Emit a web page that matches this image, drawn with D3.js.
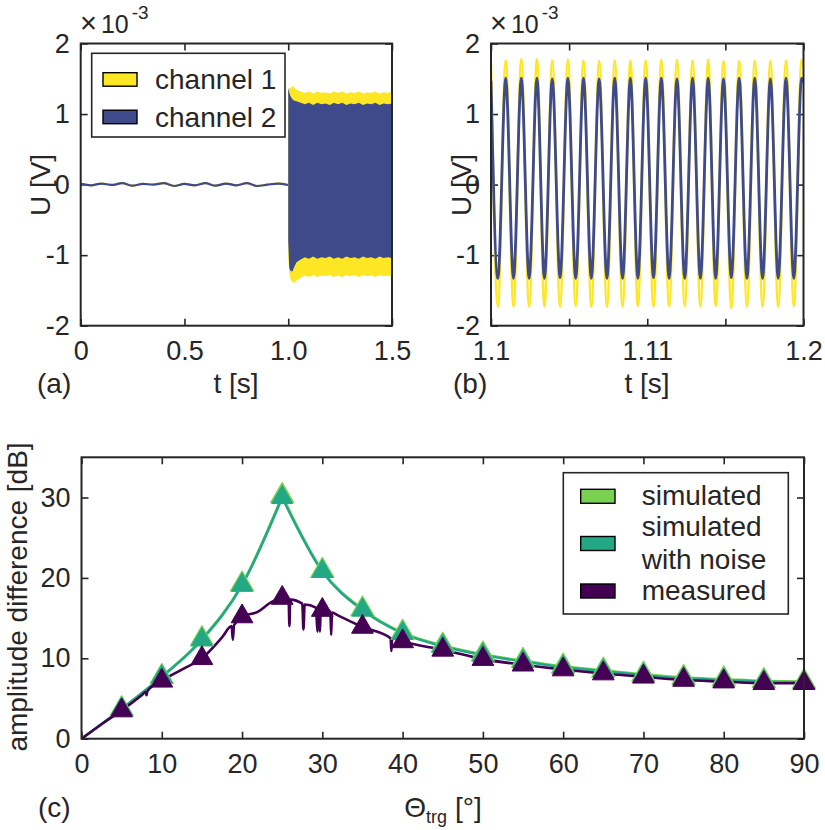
<!DOCTYPE html>
<html>
<head>
<meta charset="utf-8">
<script src="https://cdn.jsdelivr.net/npm/d3@7"></script>
<style>
  body { margin: 0; background: #fff; }
  svg { display: block; }
</style>
</head>
<body>
<svg id="fig"></svg>
<script>
(function () {
    const width = 825;
    const height = 830;
    const FONT = "'Liberation Sans', Arial, Helvetica, sans-serif";
    const INK = "#262626";
    const FS = 28;      // labels, legends
    const TICK_FS = 27; // tick labels

    const YELLOW = "#fde725", BLUE = "#3e4a89";
    const GREEN = "#7ad151", TEAL = "#22a884", PURPLE = "#440154";

    // ---- (a) full record, U in units of 1e-3 V ----
    const quietT = [0, 0.05, 0.1, 0.15, 0.2, 0.25, 0.3, 0.35, 0.4, 0.45, 0.5,
                    0.55, 0.6, 0.65, 0.7, 0.75, 0.8, 0.85, 0.9, 0.95, 1.0];
    const quietU = [0.01, -0.01, 0.015, -0.005, 0.02, -0.015, 0.01, 0.0, 0.02, -0.02, 0.01,
                    -0.01, 0.02, -0.015, 0.015, -0.01, 0.02, -0.02, 0.0, 0.015, -0.005];

    // envelope of the 200 Hz burst (too dense to show single periods)
    const burstT = [1.0, 1.005, 1.01, 1.02, 1.03, 1.04, 1.06, 1.08, 1.1, 1.12, 1.14, 1.16, 1.18,
                    1.2, 1.22, 1.24, 1.26, 1.28, 1.3, 1.32, 1.34, 1.36, 1.38, 1.4, 1.42, 1.44,
                    1.46, 1.48, 1.5];
    const ch1Top = [1.33, 1.38, 1.36, 1.40, 1.37, 1.34, 1.32, 1.30, 1.32, 1.29, 1.32, 1.30, 1.31,
                    1.29, 1.32, 1.30, 1.32, 1.29, 1.31, 1.30, 1.32, 1.29, 1.31, 1.30, 1.32, 1.29,
                    1.31, 1.30, 1.32];
    const ch1Bot = [-1.05, -1.25, -1.33, -1.38, -1.39, -1.36, -1.32, -1.29, -1.31, -1.28, -1.31, -1.29, -1.30,
                    -1.28, -1.31, -1.29, -1.31, -1.28, -1.30, -1.29, -1.31, -1.28, -1.30, -1.29, -1.31, -1.28,
                    -1.30, -1.29, -1.31];
    const ch2Top = [1.37, 1.31, 1.26, 1.21, 1.19, 1.18, 1.16, 1.14, 1.16, 1.13, 1.16, 1.14, 1.15,
                    1.13, 1.16, 1.14, 1.16, 1.13, 1.15, 1.14, 1.16, 1.13, 1.15, 1.14, 1.16, 1.13,
                    1.15, 1.14, 1.15];
    const ch2Bot = [-0.80, -1.18, -1.22, -1.23, -1.16, -1.10, -1.06, -1.03, -1.05, -1.02, -1.05, -1.03, -1.04,
                    -1.02, -1.05, -1.03, -1.05, -1.02, -1.04, -1.03, -1.05, -1.02, -1.04, -1.03, -1.05, -1.02,
                    -1.04, -1.03, -1.04];

    // ---- (b) zoom 1.1 .. 1.2 s: extrema of both channels ----
    const troughT = [1.1022, 1.1072, 1.1122, 1.1171, 1.1221, 1.1271, 1.1321, 1.1371, 1.1421, 1.1470,
                     1.1520, 1.1570, 1.1620, 1.1670, 1.1719, 1.1769, 1.1819, 1.1869, 1.1919, 1.1969];
    const peakT = [1.1047, 1.1097, 1.1147, 1.1196, 1.1246, 1.1296, 1.1346, 1.1396, 1.1446, 1.1495,
                   1.1545, 1.1595, 1.1645, 1.1695, 1.1744, 1.1794, 1.1844, 1.1894, 1.1944, 1.1994];
    const ch1Peak = [1.76, 1.78, 1.78, 1.76, 1.77, 1.76, 1.75, 1.76, 1.76, 1.76,
                     1.77, 1.77, 1.76, 1.77, 1.75, 1.75, 1.76, 1.75, 1.76, 1.77];
    const ch1Trough = [-1.73, -1.73, -1.73, -1.73, -1.73, -1.72, -1.73, -1.73, -1.73, -1.72,
                       -1.73, -1.73, -1.72, -1.73, -1.72, -1.75, -1.73, -1.73, -1.73, -1.72];
    const ch2Peak = [1.51, 1.51, 1.51, 1.50, 1.51, 1.51, 1.50, 1.51, 1.51, 1.51,
                     1.51, 1.50, 1.51, 1.51, 1.50, 1.51, 1.51, 1.50, 1.51, 1.51];
    const ch2Trough = [-1.33, -1.33, -1.33, -1.33, -1.32, -1.33, -1.33, -1.33, -1.33, -1.33,
                       -1.32, -1.33, -1.33, -1.33, -1.33, -1.32, -1.33, -1.33, -1.33, -1.33];
    const edgeT = [1.1, 1.2];
    const ch1Edge = [1.70, 1.66];
    const ch2Edge = [1.47, 1.45];

    // ---- (c) amplitude difference vs target angle ----
    const thetaMarks = [5, 10, 15, 20, 25, 30, 35, 40, 45, 50, 55, 60, 65, 70, 75, 80, 85, 90];
    const simVals   = [3.7, 7.7, 12.4, 19.2, 30.2, 20.9, 16.1, 13.2, 11.6, 10.5, 9.7, 9.0, 8.5, 8.0, 7.6, 7.4, 7.2, 7.1];
    const noiseVals = [3.7, 7.7, 12.3, 19.1, 30.0, 20.8, 16.0, 13.1, 11.5, 10.4, 9.6, 8.9, 8.4, 7.9, 7.5, 7.3, 7.1, 7.0];
    const measVals  = [3.5, 7.2, 10.0, 15.2, 17.5, 16.0, 13.9, 12.1, 11.05, 9.9, 9.2, 8.6, 8.1, 7.7, 7.3, 7.1, 6.9, 6.9];

    // measured curve at finer angle steps (with the short drop-outs near the peak)
    const measLineT = [0, 2.5, 5, 7.5, 8.0, 8.1, 8.2, 10, 12.5, 15, 17.5, 18.7, 18.85, 19.0, 20,
                       22, 23.5, 25, 25.8, 25.9, 26.0, 27.5, 27.65, 27.8, 29.2, 29.4, 29.5, 29.6,
                       29.7, 29.8, 30.5, 31.0, 31.1, 31.2, 32, 35, 38.5, 38.6, 38.7, 40, 45, 50,
                       55, 60, 65, 70, 75, 80, 85, 90];
    const measLineV = [0, 1.8, 3.5, 5.4, 5.8, 5.4, 5.9, 7.2, 8.6, 10.0, 12.6, 14.0, 12.3, 14.1, 15.2,
                       15.8, 16.9, 17.5, 17.3, 14.0, 17.3, 16.8, 13.6, 16.7, 16.3, 13.3, 16.2, 16.2,
                       13.3, 16.2, 15.9, 15.8, 12.9, 15.7, 15.3, 13.9, 12.5, 10.9, 12.5, 12.1, 11.05, 9.9,
                       9.2, 8.6, 8.1, 7.7, 7.3, 7.1, 6.9, 6.9];

    // ticks
    const aTicks = [0, 0.5, 1.0, 1.5];
    const aTickLabels = ["0", "0.5", "1.0", "1.5"];
    const bTicks = [1.1, 1.125, 1.15, 1.175, 1.2];
    const bTickLabels = ["1.1", "", "1.11", "", "1.2"];
    const uTicks = [-2, -1, 0, 1, 2];
    const uTickLabels = ["-2", "-1", "0", "1", "2"];
    const thetaTicks = [0, 10, 20, 30, 40, 50, 60, 70, 80, 90];
    const dbTicks = [0, 10, 20, 30];

    const svg = d3.select("#fig")
        .attr("width", width)
        .attr("height", height)
        .attr("font-family", FONT);

    const defs = svg.append("defs");

    // box with inward ticks on all four sides
    function frame(g, x, y, xt, xl, yt, yl, id) {
        const [x0, x1] = x.range();
        const [y0, y1] = y.range();

        defs.append("clipPath").attr("id", id)
            .append("rect")
            .attr("x", x0).attr("y", y1)
            .attr("width", x1 - x0).attr("height", y0 - y1);

        const axes = [
            g.append("g").attr("transform", `translate(0,${y0})`)
                .call(d3.axisBottom(x).tickValues(xt).tickFormat((d, i) => xl[i])
                    .tickSizeInner(-7).tickSizeOuter(0).tickPadding(15)),
            g.append("g").attr("transform", `translate(0,${y1})`)
                .call(d3.axisTop(x).tickValues(xt).tickFormat("")
                    .tickSizeInner(-7).tickSizeOuter(0)),
            g.append("g").attr("transform", `translate(${x0},0)`)
                .call(d3.axisLeft(y).tickValues(yt).tickFormat((d, i) => yl[i])
                    .tickSizeInner(-7).tickSizeOuter(0).tickPadding(11)),
            g.append("g").attr("transform", `translate(${x1},0)`)
                .call(d3.axisRight(y).tickValues(yt).tickFormat("")
                    .tickSizeInner(-7).tickSizeOuter(0))
        ];
        axes.forEach(a => {
            a.attr("font-size", TICK_FS).attr("font-family", FONT);
            a.select(".domain").remove();
            a.selectAll(".tick line").attr("stroke", INK).attr("stroke-width", 1.6);
            a.selectAll(".tick text").attr("fill", INK);
        });

        return () => g.append("rect")
            .attr("x", x0).attr("y", y1)
            .attr("width", x1 - x0).attr("height", y0 - y1)
            .attr("fill", "none")
            .attr("stroke", INK)
            .attr("stroke-width", 2);
    }

    // "×10^-3" above the U axis
    function exponentLabel(x, y) {
        const t = svg.append("text")
            .attr("x", x).attr("y", y)
            .attr("font-size", 25)
            .attr("fill", INK);
        t.append("tspan").attr("font-size", 29).text("\u00d7");
        t.append("tspan").attr("dx", 4).text("10");
        t.append("tspan").attr("font-size", 19).attr("dy", -14).attr("dx", 3).text("-3");
    }

    // ================= (a) =================
    const xa = d3.scaleLinear().domain([0, 1.5]).range([80.7, 392]);
    const ya = d3.scaleLinear().domain([-2, 2]).range([325.7, 43.5]);
    const ga = svg.append("g");
    const boxA = frame(ga, xa, ya, aTicks, aTickLabels, uTicks, uTickLabels, "clipA");

    const plotA = ga.append("g").attr("clip-path", "url(#clipA)");
    const quiet = quietT.map((t, i) => [t, quietU[i]]);
    const lineA = d3.line().x(d => xa(d[0])).y(d => ya(d[1])).curve(d3.curveMonotoneX);

    plotA.append("path").datum(quiet).attr("d", lineA)
        .attr("fill", "none").attr("stroke", YELLOW).attr("stroke-width", 2.2);
    plotA.append("path").datum(quiet).attr("d", lineA)
        .attr("fill", "none").attr("stroke", BLUE).attr("stroke-width", 2.2);

    const burstArea = (top, bot) => d3.area()
        .x((d, i) => xa(burstT[i]))
        .y0((d, i) => ya(bot[i]))
        .y1((d, i) => ya(top[i]))
        .curve(d3.curveLinear)(burstT);

    plotA.append("path").attr("d", burstArea(ch1Top, ch1Bot)).attr("fill", YELLOW);
    plotA.append("path").attr("d", burstArea(ch2Top, ch2Bot)).attr("fill", BLUE);
    boxA();

    // legend (a)
    const legA = ga.append("g");
    legA.append("rect").attr("x", 91.7).attr("y", 53.3).attr("width", 193.3).attr("height", 83.7)
        .attr("fill", "#fff").attr("stroke", INK).attr("stroke-width", 1.6);
    [["channel 1", YELLOW], ["channel 2", BLUE]].forEach(([name, col], i) => {
        legA.append("rect").attr("x", 103).attr("y", 72.7 + i * 37.5)
            .attr("width", 34).attr("height", 13.5)
            .attr("fill", col).attr("stroke", "#000").attr("stroke-width", 1.4);
        legA.append("text").attr("x", 155).attr("y", 89 + i * 38)
            .attr("font-size", FS).attr("fill", INK).text(name);
    });

    exponentLabel(80, 33);
    svg.append("text").attr("transform", "translate(50,185) rotate(-90)")
        .attr("text-anchor", "middle").attr("font-size", FS).attr("fill", INK).text("U [V]");
    svg.append("text").attr("x", 236).attr("y", 393).attr("text-anchor", "middle")
        .attr("font-size", FS).attr("fill", INK).text("t [s]");
    svg.append("text").attr("x", 37).attr("y", 393)
        .attr("font-size", FS).attr("fill", INK).text("(a)");

    // ================= (b) =================
    const xb = d3.scaleLinear().domain([1.1, 1.2]).range([491, 803.5]);
    const yb = d3.scaleLinear().domain([-2, 2]).range([325.7, 43.5]);
    const gb = svg.append("g");
    const boxB = frame(gb, xb, yb, bTicks, bTickLabels, uTicks, uTickLabels, "clipB");
    const plotB = gb.append("g").attr("clip-path", "url(#clipB)");

    function zoomSeries(peaks, troughs, edge) {
        const pts = [[edgeT[0], edge[0]]];
        troughT.forEach((t, i) => {
            pts.push([t, troughs[i]]);
            pts.push([peakT[i], peaks[i]]);
        });
        pts.push([edgeT[1], edge[1]]);
        return pts;
    }
    const lineB = d3.line().x(d => xb(d[0])).y(d => yb(d[1])).curve(d3.curveMonotoneX);
    plotB.append("path").datum(zoomSeries(ch1Peak, ch1Trough, ch1Edge)).attr("d", lineB)
        .attr("fill", "none").attr("stroke", YELLOW).attr("stroke-width", 2.6);
    plotB.append("path").datum(zoomSeries(ch2Peak, ch2Trough, ch2Edge)).attr("d", lineB)
        .attr("fill", "none").attr("stroke", BLUE).attr("stroke-width", 2.8);
    boxB();

    exponentLabel(490, 33);
    svg.append("text").attr("transform", "translate(471,185) rotate(-90)")
        .attr("text-anchor", "middle").attr("font-size", FS).attr("fill", INK).text("U [V]");
    svg.append("text").attr("x", 647).attr("y", 393).attr("text-anchor", "middle")
        .attr("font-size", FS).attr("fill", INK).text("t [s]");
    svg.append("text").attr("x", 453).attr("y", 393)
        .attr("font-size", FS).attr("fill", INK).text("(b)");

    // ================= (c) =================
    const xc = d3.scaleLinear().domain([0, 90]).range([81.5, 804]);
    const yc = d3.scaleLinear().domain([0, 35]).range([738.7, 457.3]);
    const gc = svg.append("g");
    const boxC = frame(gc, xc, yc, thetaTicks, thetaTicks.map(String), dbTicks, dbTicks.map(String), "clipC");
    const plotC = gc.append("g").attr("clip-path", "url(#clipC)");

    const lineC = d3.line().x(d => xc(d[0])).y(d => yc(d[1])).curve(d3.curveMonotoneX);
    const peakIdx = thetaMarks.indexOf(25);

    // simulated curves: split at the 25 deg peak so the cusp stays sharp
    function cuspLine(vals, col, w) {
        const pts = [[0, 0]].concat(thetaMarks.map((t, i) => [t, vals[i]]));
        const k = peakIdx + 1;
        [pts.slice(0, k + 1), pts.slice(k)].forEach(seg => {
            plotC.append("path").datum(seg).attr("d", lineC)
                .attr("fill", "none").attr("stroke", col).attr("stroke-width", w)
                .attr("stroke-linejoin", "round");
        });
    }
    cuspLine(simVals, GREEN, 2.6);
    cuspLine(noiseVals, TEAL, 2.6);

    plotC.append("path").datum(measLineT.map((t, i) => [t, measLineV[i]])).attr("d", lineC)
        .attr("fill", "none").attr("stroke", PURPLE).attr("stroke-width", 2.6)
        .attr("stroke-linejoin", "round");

    const tri = d3.symbol().type(d3.symbolTriangle);
    function markers(vals, col, size, edge) {
        gc.append("g").selectAll("path")
            .data(thetaMarks.map((t, i) => [t, vals[i]]))
            .join("path")
            .attr("transform", d => `translate(${xc(d[0])},${yc(d[1])})`)
            .attr("d", tri.size(size)())
            .attr("fill", col)
            .attr("stroke", edge)
            .attr("stroke-width", 1);
    }
    markers(simVals, GREEN, 240, GREEN);
    markers(noiseVals, TEAL, 190, TEAL);
    markers(measVals, PURPLE, 205, PURPLE);
    boxC();

    // legend (c)
    const legC = gc.append("g");
    legC.append("rect").attr("x", 563.3).attr("y", 472.7).attr("width", 225).attr("height", 141.3)
        .attr("fill", "#fff").attr("stroke", INK).attr("stroke-width", 1.6);
    const legItems = [
        { col: GREEN, py: 489.3, lines: [["simulated", 505]] },
        { col: TEAL, py: 536.5, lines: [["simulated", 536], ["with noise", 569.3]] },
        { col: PURPLE, py: 584, lines: [["measured", 600]] }
    ];
    legItems.forEach(it => {
        legC.append("rect").attr("x", 580.7).attr("y", it.py).attr("width", 34.3).attr("height", 14)
            .attr("fill", it.col).attr("stroke", "#000").attr("stroke-width", 1.4);
        it.lines.forEach(([txt, by]) => {
            legC.append("text").attr("x", 641.7).attr("y", by)
                .attr("font-size", FS).attr("fill", INK).text(txt);
        });
    });

    svg.append("text").attr("transform", "translate(27,597) rotate(-90)")
        .attr("text-anchor", "middle").attr("font-size", FS).attr("fill", INK)
        .text("amplitude difference [dB]");

    const th = svg.append("text").attr("x", 443).attr("y", 817).attr("text-anchor", "middle")
        .attr("font-size", FS).attr("fill", INK);
    th.append("tspan").text("\u0398");
    th.append("tspan").attr("font-size", 18).attr("dy", 6).text("trg");
    th.append("tspan").attr("dy", -6).text(" [\u00b0]");

    svg.append("text").attr("x", 38).attr("y", 817)
        .attr("font-size", FS).attr("fill", INK).text("(c)");
})();
</script>
</body>
</html>
